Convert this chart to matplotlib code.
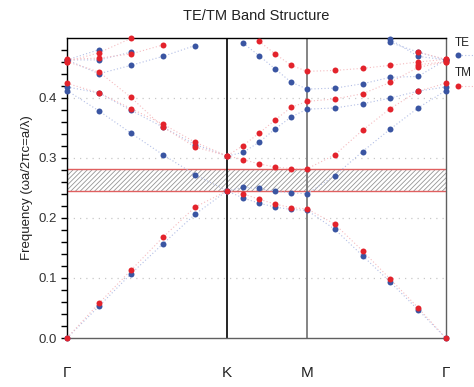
import numpy as np
import matplotlib.pyplot as plt
from matplotlib.lines import Line2D

plt.rcParams['font.family'] = ['Liberation Sans', 'DejaVu Sans']
plt.rcParams['hatch.linewidth'] = 0.6
plt.rcParams['hatch.color'] = '#959595'

nan = np.nan

# k path: Gamma -> K -> M -> Gamma, 5 steps per segment
k_labels = ['Γ', 'K', 'M', 'Γ']
seg_len = [2 / 3, 1 / 3, 1 / np.sqrt(3)]
steps = 5

# TE bands (16 k points)
te_bands = [
    [0.000, 0.053, 0.107, 0.157, 0.206, 0.245, 0.233, 0.2245, 0.218, 0.214, 0.2125, 0.181, 0.137, 0.093, 0.047, 0.000],
    [0.412, 0.378, 0.341, 0.305, 0.272, 0.245, 0.251, 0.249, 0.244, 0.242, 0.240, 0.2705, 0.3105, 0.348, 0.383, 0.412],
    [0.418, 0.408, 0.379, 0.351, 0.322, 0.303, 0.309, 0.326, 0.348, 0.368, 0.381, 0.383, 0.390, 0.3995, 0.411, 0.418],
    [0.463, 0.440, 0.454, 0.469, 0.487, nan, 0.491, 0.470, 0.448, 0.426, 0.4145, 0.416, 0.4233, 0.434, 0.4355, 0.463],
    [0.463, 0.463, 0.476, nan, nan, nan, nan, nan, nan, nan, nan, nan, nan, 0.497, 0.469, 0.463],
    [0.463, 0.480, nan, nan, nan, nan, nan, nan, nan, nan, nan, nan, nan, 0.492, 0.476, 0.463],
]

# TM bands
tm_bands = [
    [0.000, 0.058, 0.113, 0.168, 0.218, 0.245, 0.240, 0.231, 0.223, 0.217, 0.215, 0.1895, 0.145, 0.098, 0.0506, 0.000],
    [0.424, 0.408, 0.382, 0.356, 0.326, 0.3033, 0.297, 0.290, 0.2845, 0.282, 0.2817, 0.305, 0.346, 0.382, 0.411, 0.424],
    [0.460, 0.443, 0.4005, 0.351, 0.318, 0.3033, 0.3205, 0.341, 0.363, 0.384, 0.394, 0.398, 0.4067, 0.4256, 0.4505, 0.460],
    [0.464, 0.466, 0.473, 0.488, nan, nan, nan, 0.494, 0.473, 0.454, 0.444, 0.4455, 0.449, 0.454, 0.4595, 0.464],
    [0.460, 0.475, 0.499, nan, nan, nan, nan, nan, nan, nan, nan, nan, nan, nan, 0.455, 0.460],
    [nan, nan, nan, nan, nan, nan, nan, nan, nan, nan, nan, nan, nan, nan, 0.476, 0.464],
]

gap_lo, gap_hi = 0.245, 0.282

# x coordinates of the k points
kx = [0.0]
for L in seg_len:
    for i in range(steps):
        kx.append(kx[-1] + L / steps)
kx = np.array(kx)
k_ticks = np.concatenate([[0], np.cumsum(seg_len)])

blue = '#3a55a2'
red = '#e3232c'
blue_line = '#b3bfe6'
red_line = '#f5bcc0'

fig = plt.figure(figsize=(4.74, 3.87), dpi=100)
ax = fig.add_axes([0.1414, 0.1266, 0.799, 0.776])

# photonic band gap
ax.fill_between([kx[0], kx[-1]], gap_lo, gap_hi, facecolor='white',
                edgecolor='#959595', hatch='///////', linewidth=0, zorder=1)
ax.axhline(gap_lo, color='#e06060', lw=1.0, zorder=2)
ax.axhline(gap_hi, color='#e06060', lw=1.0, zorder=2)

for yv in [0.1, 0.2, 0.3, 0.4]:
    ax.axhline(yv, color='#c8c8c8', lw=0.9, ls=(0, (1, 4)), zorder=0)

ax.axvline(k_ticks[1], color='black', lw=1.2, zorder=2)
ax.axvline(k_ticks[2], color='#707070', lw=1.2, zorder=2)

for b in te_bands:
    ax.plot(kx, b, ls=(0, (1, 2)), color=blue_line, lw=0.8, zorder=3)
for b in tm_bands:
    ax.plot(kx, b, ls=(0, (1, 2)), color=red_line, lw=0.8, zorder=3)
for b in te_bands:
    ax.plot(kx, b, 'o', color=blue, ms=4.3, mew=0, zorder=4, clip_on=False)
for b in tm_bands:
    ax.plot(kx, b, 'o', color=red, ms=4.3, mew=0, zorder=5, clip_on=False)

ax.set_xlim(kx[0], kx[-1])
ax.set_ylim(0, 0.5)
ax.set_xticks(k_ticks)
ax.set_xticklabels(k_labels, fontsize=11)
ax.tick_params(axis='x', length=0, pad=20, colors='#222222')
ax.set_yticks([0.0, 0.1, 0.2, 0.3, 0.4])
ax.set_yticklabels(['0.0', '0.1', '0.2', '0.3', '0.4'])
ax.set_yticks(np.arange(0, 0.5, 0.02), minor=True)
ax.tick_params(axis='y', which='both', direction='out', length=4, width=1,
               labelsize=9.5, labelcolor='#333333')

ax.spines['left'].set_color('black')
ax.spines['top'].set_color('black')
ax.spines['right'].set_color('#606060')
ax.spines['bottom'].set_color('#606060')
for s in ax.spines.values():
    s.set_linewidth(1.0)

ax.set_ylabel('Frequency (ωa/2πc=a/λ)', fontsize=9.5, color='#222222', labelpad=4)
fig.text(0.54, 0.958, 'TE/TM Band Structure', ha='center', va='center',
         fontsize=10.5, color='#222222')

# legend at the right, outside the axes
for lab, col, lcol, yt, ym in [('TE', blue, blue_line, 0.982, 0.942),
                               ('TM', red, red_line, 0.882, 0.839)]:
    ax.text(1.024, yt, lab, transform=ax.transAxes, fontsize=8.5,
            ha='left', va='center', color='#222222')
    ax.add_line(Line2D([1.032, 1.08], [ym, ym], transform=ax.transAxes,
                       ls=(0, (1, 2)), color=lcol, lw=0.8, clip_on=False))
    ax.add_line(Line2D([1.032], [ym], transform=ax.transAxes, marker='o',
                       ms=4.3, mew=0, color=col, ls='none', clip_on=False))

fig.savefig('out.png', dpi=100)
